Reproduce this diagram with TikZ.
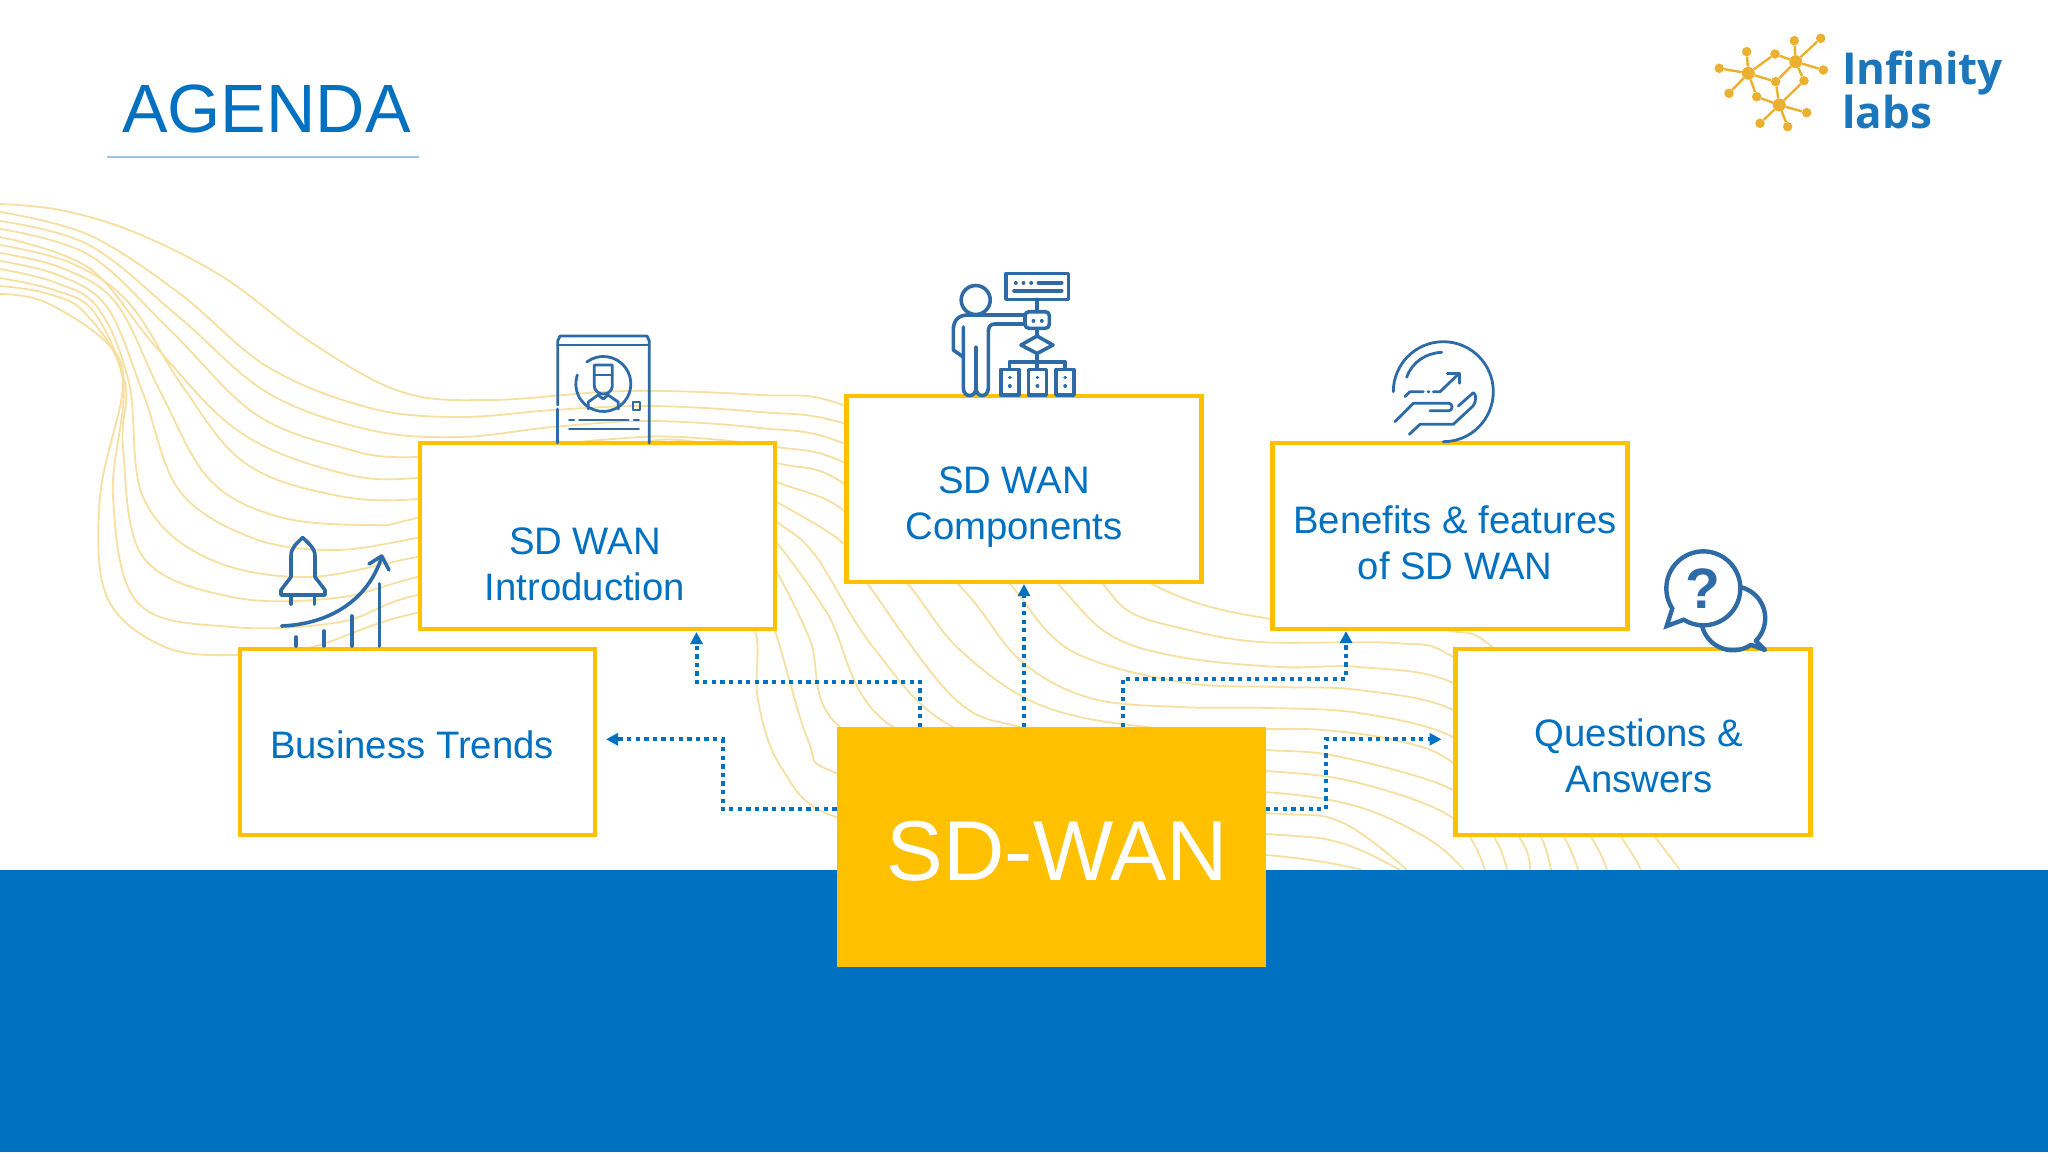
\documentclass[tikz,border=0pt]{standalone}
\usepackage{fontspec}
\setmainfont{Liberation Sans}
\newfontfamily\logofont{Open Sans}
\usetikzlibrary{arrows.meta,positioning}
\definecolor{slideblue}{HTML}{0070C0}
\definecolor{slideyellow}{HTML}{FFC000}
\definecolor{waveyellow}{HTML}{F6DFA0}
\definecolor{iconblue}{HTML}{2E6BA6}
\definecolor{ruleblue}{HTML}{A3BFE2}
\definecolor{logogold}{HTML}{EAB02E}
\definecolor{logoblue}{HTML}{1B76BC}

\begin{document}
\begin{tikzpicture}[x=1pt, y=-1pt]
\tikzset{
    agendabox/.style={rectangle, draw=slideyellow, fill=white, line width=4.4pt, minimum width=355pt, minimum height=186pt, outer sep=0pt},
    hubbox/.style={rectangle, fill=slideyellow, minimum width=429pt, minimum height=240pt, outer sep=0pt},
    boxlabel/.style={text=slideblue, align=center, inner sep=0pt, font=\fontsize{38.3}{46}\selectfont},
    myarrow/.style={-{Triangle[length=12pt,width=12pt]}, slideblue, line width=4pt, dash pattern=on 4.3pt off 4.3pt},
    waveline/.style={waveyellow, line width=1.8pt},
    iconline/.style={iconblue, line width=3.6pt, line cap=round, line join=round},
    thinicon/.style={iconblue, line width=2.8pt, line cap=round, line join=round},
    logobig/.style={circle, fill=logogold, inner sep=0pt, minimum size=13pt},
    logosmall/.style={circle, fill=logogold, inner sep=0pt, minimum size=9.5pt}
}
\useasboundingbox (0,0) rectangle (2048,1152);

% wave lines
\draw[waveline] plot[smooth, tension=0.6] coordinates {(0,204) (60,210) (134,232) (223,277) (312,343) (402,392) (491,400) (625,391) (760,395) (843,405) (1000,480) (1152,584) (1271,619) (1400,625) (1451,631) (1491,646) (1580,740) (1655,837) (1680,870)};
\draw[waveline] plot[smooth, tension=0.6] coordinates {(0,212) (89,235) (179,293) (268,367) (370,408) (460,417) (553,410) (650,406) (760,412) (843,423) (1000,480) (1075,550) (1103,584) (1130,612) (1180,628) (1260,642) (1394,643) (1453,657) (1550,740) (1621,837) (1641,870)};
\draw[waveline] plot[smooth, tension=0.6] coordinates {(0,221) (89,245) (179,317) (268,393) (370,430) (460,437) (553,427) (650,421) (760,428) (843,443) (1000,520) (1058,584) (1110,635) (1180,657) (1280,667) (1359,667) (1453,683) (1530,750) (1591,837) (1607,870)};
\draw[waveline] plot[smooth, tension=0.6] coordinates {(0,229) (89,255) (170,330) (254,413) (340,447) (417,457) (600,440) (680,437) (777,447) (843,462) (960,530) (1010,584) (1070,650) (1180,682) (1280,687) (1359,690) (1453,710) (1520,770) (1564,837) (1578,870)};
\draw[waveline] plot[smooth, tension=0.6] coordinates {(0,237) (89,268) (156,347) (237,430) (330,470) (417,478) (600,450) (680,440) (777,463) (843,483) (958,584) (1020,660) (1090,698) (1180,707) (1269,708) (1359,713) (1453,737) (1510,790) (1541,837) (1551,870)};
\draw[waveline] plot[smooth, tension=0.6] coordinates {(0,245) (71,263) (129,303) (183,387) (241,460) (320,492) (417,499) (600,470) (700,450) (777,482) (843,510) (908,584) (960,650) (1040,705) (1147,727) (1266,729) (1323,730) (1394,740) (1453,763) (1519,837) (1530,870)};
\draw[waveline] plot[smooth, tension=0.6] coordinates {(0,253) (62,268) (116,303) (161,393) (210,480) (280,517) (370,525) (417,518) (600,470) (720,470) (777,502) (843,543) (868,584) (953,697) (1020,727) (1140,745) (1266,750) (1341,757) (1453,790) (1494,837) (1507,870)};
\draw[waveline] plot[smooth, tension=0.6] coordinates {(0,261) (58,275) (107,307) (143,393) (179,490) (250,537) (330,550) (417,538) (600,500) (730,489) (777,522) (815,555) (873,647) (953,727) (1100,765) (1266,771) (1359,783) (1453,818) (1485,870)};
\draw[waveline] plot[smooth, tension=0.6] coordinates {(0,269) (54,282) (98,308) (129,383) (143,497) (205,557) (304,577) (417,557) (600,520) (740,503) (777,543) (827,613) (893,727) (1100,785) (1266,792) (1359,807) (1430,840) (1464,870)};
\draw[waveline] plot[smooth, tension=0.6] coordinates {(0,278) (54,290) (94,312) (125,383) (123,447) (143,557) (232,597) (335,598) (417,577) (600,530) (755,537) (777,572) (810,640) (840,727) (1000,800) (1266,813) (1341,822) (1407,870)};
\draw[waveline] plot[smooth, tension=0.6] coordinates {(0,286) (45,293) (85,313) (123,380) (113,497) (138,603) (232,627) (340,622) (417,595) (600,560) (700,570) (755,590) (775,631) (808,740) (836,773) (1000,820) (1266,834) (1341,843) (1400,870)};
\draw[waveline] plot[smooth, tension=0.6] coordinates {(0,294) (45,302) (107,343) (123,387) (100,497) (107,597) (165,647) (240,655) (312,647) (417,613) (600,590) (720,590) (755,631) (758,700) (781,767) (836,817) (1000,840) (1266,855) (1362,870)};

\fill[slideblue] (0,870) rectangle (2048,1152);

% title
\node[text=slideblue, inner sep=0pt, anchor=base west, font=\fontsize{68.3}{68}\selectfont] (agenda) at (122,132.7) {AGENDA};
\coordinate (ruleleft) at (107,157);
\coordinate (ruleright) at (419,157);
\draw[ruleblue, line width=1.5pt] (ruleleft) -- (ruleright);

% boxes
\node[hubbox] (sdwan) at (1051,847) {};
\node[agendabox, above=145pt of sdwan, xshift=-27pt] (components) {};
\node[agendabox, left=71.5pt of components, yshift=-47pt] (intro) {};
\node[agendabox, right=71pt of components, yshift=-47pt] (benefits) {};
\node[agendabox, below=20pt of intro, xshift=-180pt] (business) {};
\node[agendabox, below=20pt of benefits, xshift=183pt] (questions) {};

\node[boxlabel] (businesstext) at ([xshift=-5.5pt,yshift=-3pt]business.center) {Business Trends};
\node[boxlabel] (introtext) at ([xshift=-12.5pt,yshift=-28.5pt]intro.center) {SD WAN\\Introduction};
\node[boxlabel] (componentstext) at ([xshift=-10pt,yshift=-18.5pt]components.center) {SD WAN\\Components};
\node[boxlabel] (benefitstext) at ([xshift=5pt,yshift=-7pt]benefits.center) {Benefits \& features\\of SD WAN};
\node[boxlabel] (questionstext) at ([xshift=6pt,yshift=-13.5pt]questions.center) {Questions \&\\Answers};
\node[text=white, inner sep=0pt, font=\fontsize{85}{85}\selectfont] (sdwantext) at ([xshift=6.5pt,yshift=-4pt]sdwan.center) {SD-WAN};

% connectors
\draw[myarrow] ([xshift=-130.6pt]sdwan.north) -- ++(0,-45) -| ([xshift=99pt,yshift=-3pt]intro.south);
\draw[myarrow] ([xshift=-27pt]sdwan.north) -- ([yshift=-2pt]components.south);
\draw[myarrow] ([xshift=71.5pt]sdwan.north) -- ++(0,-48) -| ([xshift=-104pt,yshift=-2pt]benefits.south);
\draw[myarrow] ([yshift=37.7pt]sdwan.west) -- ++(-114,0) |- ([xshift=11pt,yshift=2.7pt]business.east);
\draw[myarrow] ([yshift=37.7pt]sdwan.east) -- ++(60,0) |- ([xshift=-14pt,yshift=2.7pt]questions.west);

% rocket icon
\draw[iconline] (302.7,537.5) .. controls (296,544) and (291,548) .. (291,556) -- (291,577) -- (281,590) -- (281,595) -- (325,595) -- (325,590) -- (315,577) -- (315,556) .. controls (315,548) and (309,544) .. (302.7,537.5);
\draw[iconline] (291,595) -- (291,604) (314.3,595) -- (314.3,604);
\draw[iconline] (281.7,626) .. controls (330,624) and (368,600) .. (381.7,557);
\draw[iconline] (369,564) -- (381.7,556) -- (389,570);
\draw[iconline] (296,637) -- (296,646) (323.7,631) -- (323.7,646) (351.7,616) -- (351.7,646) (379.3,584) -- (379.3,646);

% profile card icon
\draw[thinicon] (557.7,405) -- (557.7,341) -- (560,336) -- (647,336) -- (649.3,341) -- (649.3,443);
\draw[thinicon] (557.7,409) -- (557.7,443);
\draw[thinicon] (557.7,345) -- (649.3,345);
\draw[thinicon] (586.8,362) arc[start angle=233, end angle=559, radius=27.5];
\draw[thinicon] (594.3,365) -- (612.3,365) -- (612.3,385) .. controls (612.3,392) and (607,394) .. (603.3,394) .. controls (600,394) and (594.3,392) .. (594.3,385) -- cycle;
\draw[thinicon] (594.3,375) -- (612.3,375);
\draw[thinicon] (588.3,409) -- (588.3,402) -- (598,395) -- (603.3,399) -- (608,395) -- (618.3,402) -- (618.3,409);
\draw[thinicon] (633,402) rectangle (640,410);
\draw[thinicon] (569.3,420) -- (574,420) (579.3,420) -- (628.3,420) (634,420) -- (638.7,420) (569.3,429) -- (638.7,429);

% flow chart icon
\draw[iconline] (975.7,300) circle[radius=14.5];
\draw[iconline] (1024,315) -- (968,315) .. controls (958,315) and (953.3,321) .. (953.3,330) -- (953.3,350) -- (963.3,357);
\draw[iconline] (963.3,327) -- (963.3,388) .. controls (963.3,398) and (976,398) .. (976,388) -- (976,347);
\draw[iconline] (976,388) .. controls (976,398) and (988.3,398) .. (988.3,388) -- (988.3,332) .. controls (988.3,327) and (990,324) .. (995,324) -- (1024,324);
\draw[iconline] (1006,273.3) rectangle (1068.3,299.3);
\draw[iconline] (1015.7,282.7) -- (1016,282.7) (1023.3,282.7) -- (1023.6,282.7) (1031,282.7) -- (1031.3,282.7) (1038.3,282.7) -- (1061.7,282.7) (1014,290.7) -- (1061.7,290.7);
\draw[iconline] (1037,299.3) -- (1037,311.7);
\draw[iconline, rounded corners=4pt] (1025,311.7) rectangle (1049.3,328.3);
\draw[iconline] (1033.3,320.7) -- (1033.6,320.7) (1041.7,320.7) -- (1042,320.7);
\draw[iconline] (1037,328.3) -- (1037,336) (1021,345) -- (1037,336) -- (1053,345) -- (1037,353.5) -- cycle;
\draw[iconline] (1037,353.5) -- (1037,369) (1009.5,369) -- (1009.5,361.7) -- (1065,361.7) -- (1065,369);
\foreach \boxleft in {1000.7,1028.3,1056} {
  \draw[iconline] (\boxleft,369.3) rectangle ++(18,25.7);
  \draw[iconline] (\boxleft+9,377.3) -- ++(0.3,0) (\boxleft+9,386) -- ++(0.3,0);
}

% hand icon
\draw[thinicon] (1393.3,391.7) arc[start angle=180, end angle=450, radius=50];
\draw[thinicon] (1406.7,377.3) .. controls (1412,362) and (1426,353) .. (1441.7,352.3);
\draw[thinicon] (1405,396.7) -- (1410,391.7) -- (1423.3,391.7) (1428,391.7) -- (1429,391.7) (1433.3,391.7) -- (1440,391.7) -- (1459.3,373.3);
\draw[thinicon] (1447.3,373.3) -- (1459.3,373.3) -- (1459.3,383.3);
\draw[thinicon] (1395,421.7) -- (1413.3,403.3) -- (1449,403.3) .. controls (1453,403.3) and (1453,410.7) .. (1449,410.7) -- (1430,410.7);
\draw[thinicon] (1409.3,434.3) -- (1420,424.3) -- (1453.3,424.3) -- (1473,406) .. controls (1477,400) and (1476,394) .. (1473.3,392.7) -- (1458.3,406);

% question icon
\draw[iconline, line width=4.4pt] (1742,587.5) arc[start angle=-74, end angle=45, radius=32] -- (1765,650) -- (1751,644.8) arc[start angle=56, end angle=167, radius=32];
\draw[iconline, line width=4.4pt, line cap=butt, line join=miter] (1672.3,608.5) arc[start angle=147, end angle=482, radius=37] -- (1666.7,626) -- cycle;
\node[text=iconblue, inner sep=0pt, font=\fontsize{57}{57}\bfseries\selectfont] (questionmark) at (1703.3,589) {?};

% logo
\foreach \dotname/\dotx/\doty in {a1/1719.3/68.3, a2/1746.7/51.7, a3/1729/93.3, a4/1775/54, b1/1794.3/40.7, b2/1820.7/38.3, b3/1823.3/70, b4/1804/80.7, m1/1775.7/81.7, m2/1756.7/96.7, c1/1806.7/112.7, c2/1760/123.3, c3/1787.7/126.7}
  \node[logosmall] (\dotname) at (\dotx,\doty) {};
\node[logobig] (hubA) at (1748.3,73.3) {};
\node[logobig] (hubB) at (1795.7,61.7) {};
\node[logobig] (hubC) at (1779.3,105) {};
\foreach \from/\to in {hubA/a1, hubA/a2, hubA/a3, hubA/a4, a4/hubB, hubB/b1, hubB/b2, hubB/b3, hubB/b4, b4/hubC, hubA/m1, m1/hubC, m1/hubB, hubA/m2, m2/hubC, hubC/c1, hubC/c2, hubC/c3}
  \draw[logogold, line width=2.4pt] (\from) -- (\to);
\node[text=logoblue, inner sep=0pt, anchor=base west, font=\logofont\bfseries\fontsize{44}{44}\selectfont] (infinity) at (1842,84) {Infinity};
\node[text=logoblue, inner sep=0pt, anchor=base west, font=\logofont\bfseries\fontsize{44}{44}\selectfont] (labs) at (1842,128.3) {labs};

\end{tikzpicture}
\end{document}
